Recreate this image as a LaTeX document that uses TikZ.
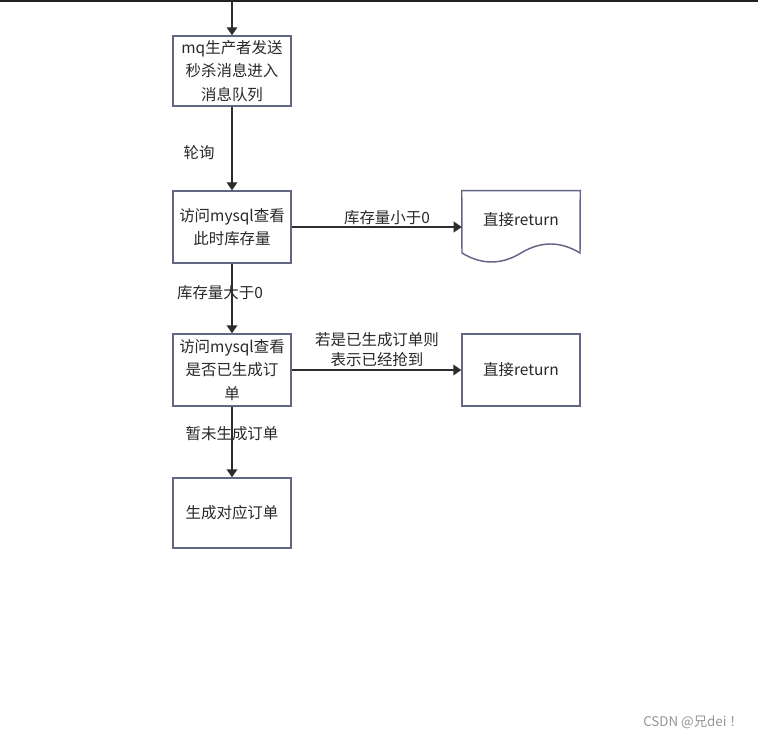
\documentclass[tikz,border=0pt]{standalone}
\usepackage{fontspec}
\setmainfont{Noto Sans CJK SC}
\usetikzlibrary{arrows.meta}
\definecolor{boxline}{RGB}{98,102,132}
\definecolor{arrowline}{RGB}{45,45,45}
\definecolor{txt}{RGB}{40,40,40}
\definecolor{topbar}{RGB}{31,35,38}
\definecolor{wm}{RGB}{150,150,150}
\begin{document}
\begin{tikzpicture}[x=0.75pt,y=-0.75pt,
  stepbox/.style={draw=boxline,line width=1.1pt,fill=white,minimum width=88.5pt,align=center,inner sep=0pt,text=txt,font=\fontsize{11.6}{17.4}\selectfont},
  flow/.style={draw=arrowline,line width=1.1pt,-{Triangle[width=8pt,length=6pt]}},
  lbl/.style={text=txt,align=center,inner sep=0pt,font=\fontsize{11.6}{15}\selectfont}]
\useasboundingbox (0,0) rectangle (758,737);
\fill[white] (0,0) rectangle (758,737);
\draw[topbar,line width=1.6pt] (0,1) -- (758,1);
\coordinate (start) at (232,0);
\node[stepbox,minimum height=52.5pt] (b1) at (232,71) {mq生产者发送\\秒杀消息进入\\消息队列};
\node[stepbox,minimum height=54pt] (b2) at (232,227) {访问mysql查看\\此时库存量};
\node[stepbox,minimum height=54pt] (b3) at (232,370) {访问mysql查看\\是否已生成订\\单};
\node[stepbox,minimum height=54pt] (b4) at (521,370) {直接return};
\node[stepbox,minimum height=52.5pt] (b5) at (232,513) {生成对应订单};
% document shape
\node[minimum width=88.5pt,minimum height=54pt,inner sep=0pt] (doc) at (521,227) {};
\draw[boxline,line width=1.1pt,fill=white] (doc.north west) -- (doc.north east) -- (580,253)
  .. controls (560.33,241) and (540.67,241) .. (521,253)
  .. controls (501.33,265) and (481.67,265) .. (462,253) -- cycle;
\node[lbl] (doctext) at (521,220) {直接return};
% connectors
\draw[flow] (start) -- (b1.north);
\draw[flow] (b1.south) -- (b2.north);
\draw[flow] (b2.east) -- (doc.west);
\draw[flow] (b2.south) -- (b3.north);
\draw[flow] (b3.east) -- (b4.west);
\draw[flow] (b3.south) -- (b5.north);
% labels
\node[lbl] (l1) at (199,153) {轮询};
\node[lbl] (l2) at (387,218) {库存量小于0};
\node[lbl] (l3) at (220,293) {库存量大于0};
\node[lbl] (l4) at (377,350) {若是已生成订单则\\表示已经抢到};
\node[lbl] (l5) at (232,434) {暂未生成订单};
\node[text=wm,inner sep=0pt,font=\fontsize{10}{12}\selectfont] (wmk) at (693,722) {CSDN @兄dei ！};
\end{tikzpicture}
\end{document}
